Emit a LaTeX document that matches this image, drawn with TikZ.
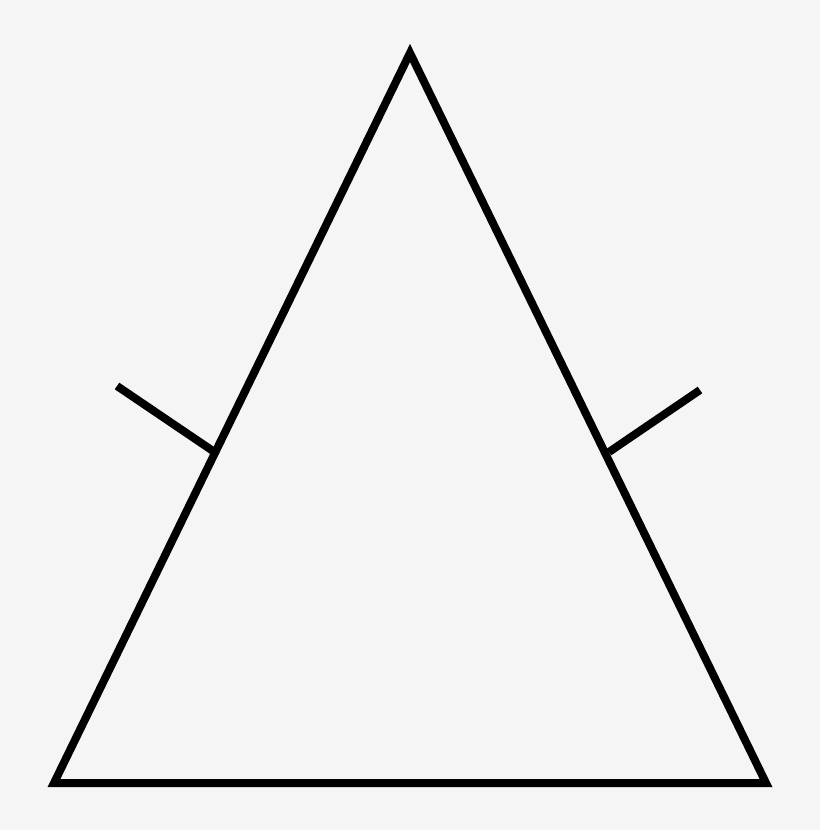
\documentclass[tikz,border=0pt]{standalone}
\definecolor{bg}{HTML}{F5F5F5}
\begin{document}
\begin{tikzpicture}[x=1pt,y=-1pt,
  edge/.style={line width=8pt, line join=miter, black},
  tick/.style={line width=8pt, black}]
\fill[bg] (0,0) rectangle (820,830);
\useasboundingbox (0,0) rectangle (820,830);
\coordinate (A) at (410,53);
\coordinate (B) at (54,783);
\coordinate (C) at (766,783);
\draw[edge] (A) -- (B) -- (C) -- cycle;
\coordinate (L1) at (117,386);
\coordinate (L2) at (213,451);
\coordinate (R1) at (700,390);
\coordinate (R2) at (609,452);
\draw[tick] (L1) -- (L2);
\draw[tick] (R1) -- (R2);
\end{tikzpicture}
\end{document}
